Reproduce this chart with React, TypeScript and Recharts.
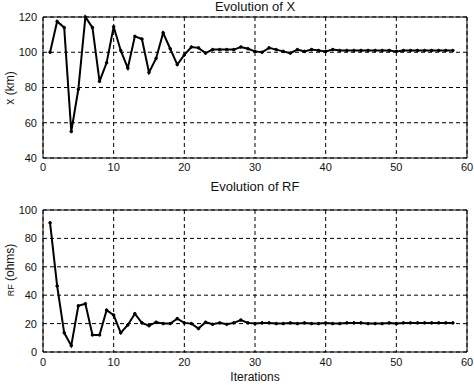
import { LineChart, Line, XAxis, YAxis, CartesianGrid, ReferenceArea } from 'recharts'

const iterations = [
  1, 2, 3, 4, 5, 6, 7, 8, 9, 10, 11, 12, 13, 14, 15, 16, 17, 18, 19, 20,
  21, 22, 23, 24, 25, 26, 27, 28, 29, 30, 31, 32, 33, 34, 35, 36, 37, 38, 39, 40,
  41, 42, 43, 44, 45, 46, 47, 48, 49, 50, 51, 52, 53, 54, 55, 56, 57, 58,
]

const xKm = [
  100, 117.5, 114, 55, 79, 120, 114, 83.5, 94, 114.5, 101, 91, 109, 107.5, 88.5, 96.5, 111, 102, 93, 98.5,
  103, 102.5, 99.5, 101.5, 101.5, 101.5, 101.5, 103, 102, 100.5, 100, 102.5, 101.5, 100.5, 99.5, 101.5, 100.5, 101.5, 101, 100.5,
  101.5, 101, 101, 101, 101, 101, 101, 101, 101, 100.5, 101, 101, 101, 101, 101, 101, 101, 101,
]

const rf = [
  91, 46.5, 13.5, 4.5, 32.5, 34, 12, 12, 29.5, 26, 13.5, 19, 27, 20.5, 18.5, 21, 20, 20, 23.5, 20.5,
  20, 16.5, 21, 19.5, 20.5, 19.5, 20.5, 22.5, 20.5, 20, 20.5, 20.5, 20, 20, 20.5, 20, 20.5, 20, 20, 20.5,
  20, 20, 20.5, 20.5, 20.5, 20, 20, 20, 20.5, 20, 20.5, 20.5, 20.5, 20.5, 20.5, 20.5, 20.5, 20.5,
]

const xTicks = [0, 10, 20, 30, 40, 50, 60]
const xKmTicks = [40, 60, 80, 100, 120]
const rfTicks = [0, 20, 40, 60, 80, 100]

const xData = iterations.map((it, i) => ({ it, v: xKm[i] }))
const rfData = iterations.map((it, i) => ({ it, v: rf[i] }))

const font = '"Liberation Sans", Arial, sans-serif'
const tick = { fill: '#111', fontSize: 11, fontFamily: font }
const textStyle = { position: 'absolute' as const, fontFamily: font, color: '#111', whiteSpace: 'nowrap' as const }

function Panel({ data, yTicks, yMin, yMax, height, top, bottomH, xMargin }: any) {
  return (
    <LineChart width={474} height={height} data={data} margin={{ top, right: 7, left: 0, bottom: 0 }}>
      <CartesianGrid stroke="#000" strokeDasharray="4 3" strokeWidth={1} />
      <XAxis dataKey="it" type="number" domain={[0, 60]} ticks={xTicks} tickSize={0} tickMargin={xMargin}
        axisLine={false} tick={tick} height={bottomH} interval={0} />
      <YAxis type="number" domain={[yMin, yMax]} ticks={yTicks} tickSize={0} tickMargin={6}
        axisLine={false} tick={tick} width={43} interval={0} />
      <ReferenceArea x1={0} x2={60} y1={yMin} y2={yMax} fill="none" stroke="#000" strokeWidth={1} ifOverflow="visible" />
      <Line dataKey="v" stroke="#000" strokeWidth={2} isAnimationActive={false}
        dot={{ r: 1.3, fill: '#000', stroke: '#000', strokeWidth: 1 }} />
    </LineChart>
  )
}

export default function App() {
  return (
    <div style={{ position: 'absolute', left: 0, top: 0, width: 474, height: 385, background: '#fff', overflow: 'hidden' }}>
      <div style={{ position: 'absolute', left: 0, top: 0 }}>
        <Panel data={xData} yTicks={xKmTicks} yMin={40} yMax={120} height={185} top={17} bottomH={27} xMargin={5} />
      </div>
      <div style={{ position: 'absolute', left: 0, top: 190 }}>
        <Panel data={rfData} yTicks={rfTicks} yMin={0} yMax={100} height={182} top={20} bottomH={20} xMargin={6} />
      </div>
      <div style={{ ...textStyle, left: 0, width: 510, top: 0, lineHeight: '14px', textAlign: 'center', fontSize: 13 }}>Evolution of X</div>
      <div style={{ ...textStyle, left: 0, width: 510, top: 179, textAlign: 'center', fontSize: 13 }}>Evolution of RF</div>
      <div style={{ ...textStyle, left: 0, width: 510, top: 370, textAlign: 'center', fontSize: 12 }}>Iterations</div>
      <div style={{ ...textStyle, left: 10, top: 88, fontSize: 12, transform: 'translate(-50%, -50%) rotate(-90deg)' }}>x (km)</div>
      <div style={{ ...textStyle, left: 10, top: 270, fontSize: 12, transform: 'translate(-50%, -50%) rotate(-90deg)' }}>
        <span style={{ fontSize: 9 }}>RF</span> (ohms)
      </div>
    </div>
  )
}
